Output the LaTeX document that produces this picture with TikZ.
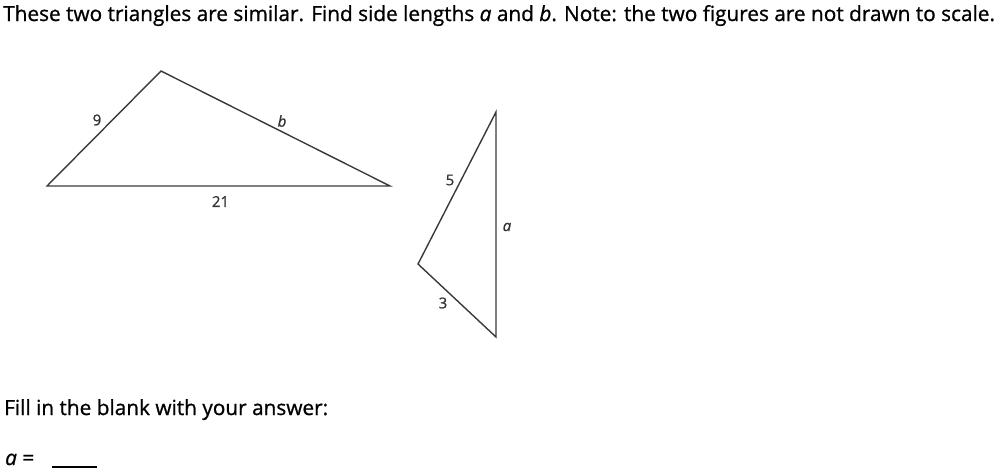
\documentclass[tikz,border=0pt]{standalone}
\usepackage{fontspec}
\setmainfont{Open Sans}[RawFeature={embolden=0.9}]
\usetikzlibrary{positioning}
\definecolor{edgegray}{HTML}{3A3A3A}
\definecolor{labelgray}{HTML}{333333}
\tikzset{%
	side/.style={
		draw=edgegray,
		line width=1.4pt,
		line join=miter
	},
	side label/.style={
		text=labelgray,
		font=\fontsize{15}{17}\selectfont,
		inner sep=0pt
	},
	prose/.style={
		anchor=base west,
		inner sep=0pt,
		font=\fontsize{20.8}{24}\selectfont
	},
}
\begin{document}
\begin{tikzpicture}[x=1pt,y=-1pt]
	\useasboundingbox (0,0) rectangle (1003,472);
	% question text
	\node[prose] (title) at (3,21) {These two triangles are similar. Find side lengths \textit{a} and \textit{b}. Note: the two figures are not drawn to scale.};
	% large triangle
	\coordinate (L1) at (47,186);
	\coordinate (L2) at (161,71);
	\coordinate (L3) at (390,186);
	\draw[side] (L1) -- (L2) -- (L3) -- cycle;
	\node[side label] (nine) at (97,120) {9};
	\node[side label] (bee) at (282,121) {\textit{b}};
	\node[side label] (twentyone) at (220.5,201.5) {21};
	% small triangle
	\coordinate (S1) at (496,112);
	\coordinate (S2) at (418,264);
	\coordinate (S3) at (496,337);
	\draw[side] (S1) -- (S2) -- (S3) -- cycle;
	\node[side label] (five) at (450,180) {5};
	\node[side label] (ay) at (507,227) {\textit{a}};
	\node[side label] (three) at (443,303) {3};
	% answer part
	\node[prose] (fill) at (4,415) {Fill in the blank with your answer:};
	\node[prose] (answer) at (5,465) {\textit{a} =};
	\coordinate (blankL) at (52,467);
	\coordinate (blankR) at (97,467);
	\draw[line width=1.2pt] (blankL) -- (blankR);
\end{tikzpicture}
\end{document}
